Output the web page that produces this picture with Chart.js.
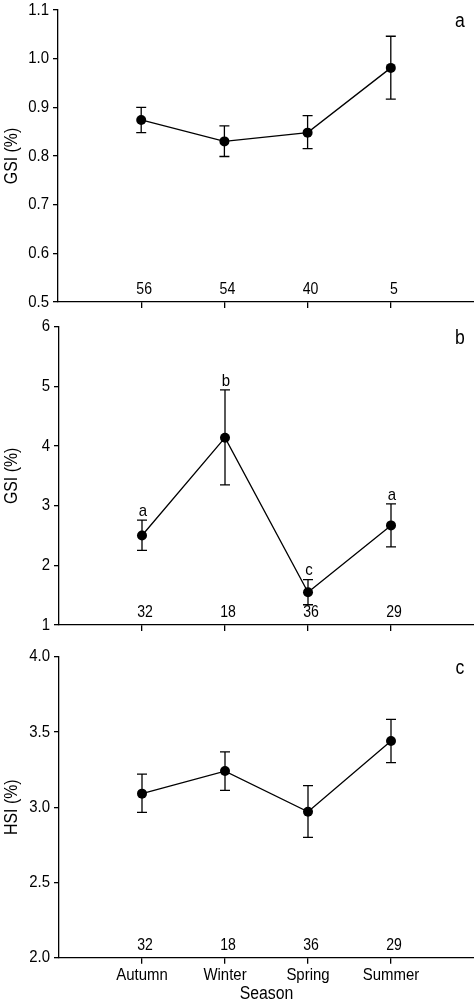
<!DOCTYPE html>
<html><head><meta charset="utf-8">
<script src="https://cdn.jsdelivr.net/npm/chart.js@4.4.1/dist/chart.umd.min.js"></script>
<style>
html,body{margin:0;padding:0;background:#fff;width:474px;height:1003px;overflow:hidden}
canvas{position:absolute;left:0}
</style></head><body>
<canvas id="ca" width="474" height="312" style="top:0"></canvas>
<canvas id="cb" width="474" height="323" style="top:312px"></canvas>
<canvas id="cc" width="474" height="368" style="top:635px"></canvas>
<script>
const seasons = ['Autumn', 'Winter', 'Spring', 'Summer'];

const gsiAMean  = [0.874, 0.830, 0.848, 0.981];
const gsiAUpper = [0.900, 0.862, 0.883, 1.046];
const gsiALower = [0.848, 0.799, 0.815, 0.917];
const gsiACounts = ['56', '54', '40', '5'];
const gsiATicks = [0.5, 0.6, 0.7, 0.8, 0.9, 1.0, 1.1];
const gsiATickLabels = ['0.5', '0.6', '0.7', '0.8', '0.9', '1.0', '1.1'];

const gsiBMean  = [2.50, 4.14, 1.55, 2.67];
const gsiBUpper = [2.76, 4.94, 1.76, 3.03];
const gsiBLower = [2.25, 3.35, 1.34, 2.31];
const gsiBCounts = ['32', '18', '36', '29'];
const gsiBLetters = ['a', 'b', 'c', 'a'];
const gsiBTicks = [1, 2, 3, 4, 5, 6];
const gsiBTickLabels = ['1', '2', '3', '4', '5', '6'];

const hsiMean  = [3.09, 3.24, 2.97, 3.44];
const hsiUpper = [3.22, 3.367, 3.143, 3.584];
const hsiLower = [2.966, 3.112, 2.80, 3.296];
const hsiCounts = ['32', '18', '36', '29'];
const hsiTicks = [2.0, 2.5, 3.0, 3.5, 4.0];
const hsiTickLabels = ['2.0', '2.5', '3.0', '3.5', '4.0'];

const FONT = "'Liberation Sans',Arial,sans-serif";
Chart.defaults.font.family = FONT;
Chart.defaults.color = '#000';

// the reference typeface is a condensed sans; squeeze glyphs horizontally
const condense = {
  id: 'condense',
  beforeInit(chart) {
    const ctx = chart.ctx;
    const orig = ctx.fillText.bind(ctx);
    ctx.fillText = function (t, x, y) {
      ctx.save();
      ctx.translate(x, y);
      ctx.scale(0.88, 1);
      orig(t, 0, 0);
      ctx.restore();
    };
  }
};

function makePanel(id, o) {
  const data = o.mean.map((v, i) => ({ x: i + 1, y: v }));
  const overlay = {
    id: 'overlay_' + id,
    beforeDatasetsDraw(chart) {
      const ctx = chart.ctx, xs = chart.scales.x, ys = chart.scales.y;
      ctx.save();
      ctx.strokeStyle = '#000';
      ctx.lineWidth = 1.3;
      o.mean.forEach((v, i) => {
        const px = xs.getPixelForValue(i + 1);
        const pu = ys.getPixelForValue(o.upper[i]);
        const pl = ys.getPixelForValue(o.lower[i]);
        ctx.beginPath();
        ctx.moveTo(px, pu); ctx.lineTo(px, pl);
        ctx.moveTo(px - 5, pu); ctx.lineTo(px + 5, pu);
        ctx.moveTo(px - 5, pl); ctx.lineTo(px + 5, pl);
        ctx.stroke();
      });
      ctx.restore();
    },
    afterDatasetsDraw(chart) {
      const ctx = chart.ctx, xs = chart.scales.x, ys = chart.scales.y, ca = chart.chartArea;
      ctx.save();
      ctx.fillStyle = '#000';
      ctx.textAlign = 'center';
      ctx.textBaseline = 'middle';
      ctx.font = '16px ' + FONT;
      o.counts.forEach((c, i) => ctx.fillText(c, xs.getPixelForValue(i + 1) + 3, ca.bottom - 12));
      if (o.letters) {
        ctx.font = '17px ' + FONT;
        o.letters.forEach((l, i) => ctx.fillText(l, xs.getPixelForValue(i + 1) + 1, ys.getPixelForValue(o.upper[i]) - 9));
      }
      ctx.font = '20px ' + FONT;
      ctx.fillText(o.panel, 460, ca.top + 12);
      ctx.restore();
    }
  };
  new Chart(document.getElementById(id), {
    type: 'line',
    data: { datasets: [{
      data,
      borderColor: '#000', borderWidth: 1.3,
      pointRadius: 5, pointBackgroundColor: '#000', pointBorderColor: '#000', pointBorderWidth: 0,
      tension: 0, fill: false
    }] },
    options: {
      responsive: false, animation: false, events: [],
      layout: { autoPadding: false, padding: { top: o.padTop, right: 0, bottom: 0, left: 0 } },
      plugins: { legend: { display: false }, tooltip: { enabled: false } },
      scales: {
        x: {
          type: 'linear', min: 0, max: 5,
          afterBuildTicks(s) { s.ticks = seasons.map((_, i) => ({ value: i + 1 })); },
          afterFit(s) { s.height = o.xHeight; },
          grid: { drawOnChartArea: false, drawTicks: true, tickLength: 6, color: '#000', lineWidth: 1.3 },
          border: { display: true, color: '#000', width: 1.3 },
          ticks: { display: o.showLabels, padding: 3, font: { size: 17, lineHeight: 1.0 }, color: '#000',
                   maxRotation: 0, autoSkip: false, callback: (v) => seasons[Math.round(v) - 1] },
          title: { display: o.showLabels, text: 'Season', font: { size: 18, lineHeight: 1.0 }, padding: 0, color: '#000' }
        },
        y: {
          type: 'linear', min: o.ymin, max: o.ymax,
          afterBuildTicks(s) { s.ticks = o.yticks.map(v => ({ value: v })); },
          afterFit(s) { s.width = o.yWidth; },
          grid: { drawOnChartArea: false, drawTicks: true, tickLength: 5, color: '#000', lineWidth: 1.3 },
          border: { display: true, color: '#000', width: 1.3 },
          ticks: { padding: 4, font: { size: 17, lineHeight: 0.7 }, color: '#000',
                   callback: (v, i) => o.ylabels[i] },
          title: { display: true, text: o.ytitle, font: { size: 18 }, padding: { top: 1, bottom: 0 }, color: '#000' }
        }
      }
    },
    plugins: [condense, overlay]
  });
}

makePanel('ca', { mean: gsiAMean, upper: gsiAUpper, lower: gsiALower, counts: gsiACounts,
  ymin: 0.5, ymax: 1.1, yticks: gsiATicks, ylabels: gsiATickLabels, ytitle: 'GSI (%)', panel: 'a',
  padTop: 8, xHeight: 6, yWidth: 58, showLabels: false });
makePanel('cb', { mean: gsiBMean, upper: gsiBUpper, lower: gsiBLower, counts: gsiBCounts, letters: gsiBLetters,
  ymin: 1, ymax: 6, yticks: gsiBTicks, ylabels: gsiBTickLabels, ytitle: 'GSI (%)', panel: 'b',
  padTop: 14.7, xHeight: 6, yWidth: 59, showLabels: false });
makePanel('cc', { mean: hsiMean, upper: hsiUpper, lower: hsiLower, counts: hsiCounts,
  ymin: 2, ymax: 4, yticks: hsiTicks, ylabels: hsiTickLabels, ytitle: 'HSI (%)', panel: 'c',
  padTop: 21.7, xHeight: 45.3, yWidth: 59, showLabels: true });
</script>
</body></html>
